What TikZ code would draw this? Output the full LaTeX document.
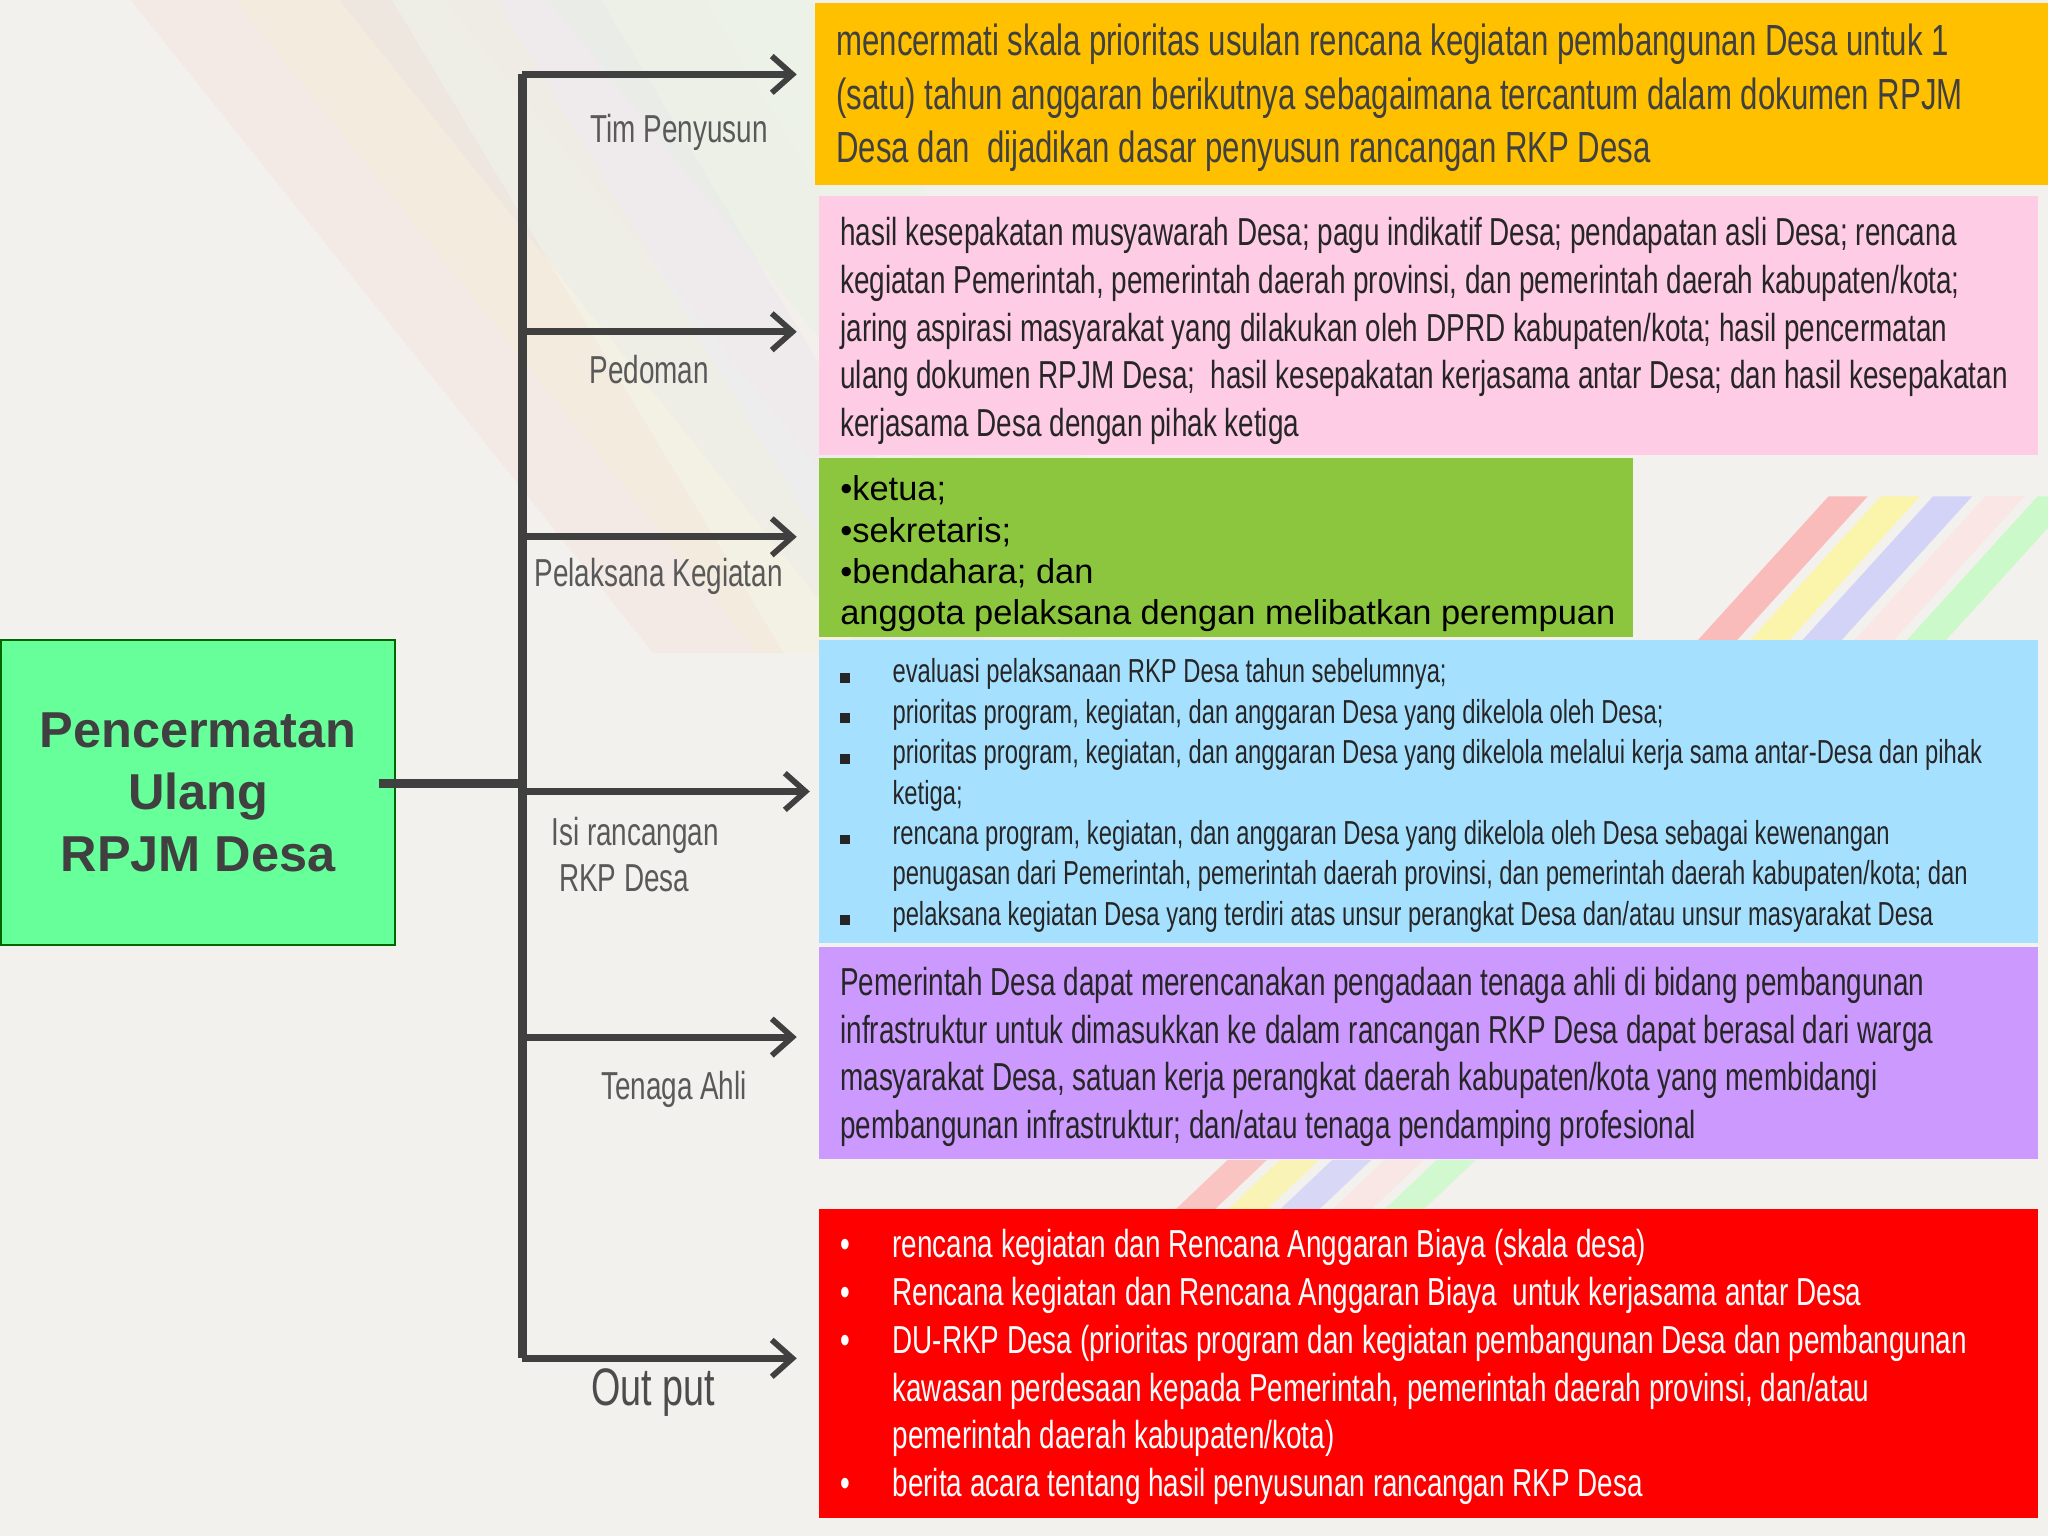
\documentclass[tikz,border=0pt]{standalone}
\usepackage{fontspec}
\setmainfont{Liberation Sans}
\newfontfamily\cond[FakeStretch=0.715]{Liberation Sans}
\usetikzlibrary{arrows.meta}
\definecolor{bg}{HTML}{F3F1ED}
\definecolor{lineg}{HTML}{404040}
\definecolor{ora}{HTML}{FFC000}
\definecolor{pnk}{HTML}{FFCCE6}
\definecolor{grn}{HTML}{8CC63F}
\definecolor{blu}{HTML}{A6E0FF}
\definecolor{pur}{HTML}{CC99FF}
\definecolor{rd}{HTML}{FF0000}
\definecolor{mint}{HTML}{66FF99}
\tikzset{
 txt/.style={anchor=north west,align=left,inner sep=0pt,font=\cond,text=black!80},
 lbl/.style={font=\cond\fontsize{17}{20}\selectfont,text=black!65},
 br/.style={line width=3pt,draw=lineg,-{Straight Barb[length=9pt,width=16pt,line width=2.5pt]}}
}
\newcommand{\sq}{\makebox[0.8cm][l]{\rule{0.15cm}{0.15cm}}}
\newcommand{\wb}{\makebox[0.8cm][l]{\textbullet}}
\begin{document}
\begin{tikzpicture}[x=0.02cm,y=-0.02cm]
\fill[bg] (0,0) rectangle (1568,1176);
\useasboundingbox (0,0) rectangle (1568,1176);
% faint stripes
\foreach \c/\o in {red!40/0,yellow!50/40,blue!25/80,pink!50/120,green!30/160}{
 \fill[\c,opacity=0.6] (1300+\o,490) -- (1400+\o,380) -- (1430+\o,380) -- (1330+\o,490) -- cycle;
 \fill[\c,opacity=0.5] (900+\o,926) -- (940+\o,888) -- (970+\o,888) -- (930+\o,926) -- cycle;
 \fill[\c,opacity=0.08] (100+\o*2,0) -- (300+\o*2,0) -- (600+\o*2,500) -- (500+\o*2,500) -- cycle;
}
% boxes
\fill[ora] (624,2) rectangle (1568,142);
\fill[pnk] (627,150) rectangle (1560,348);
\fill[grn] (627,351) rectangle (1250,488);
\fill[blu] (627,490) rectangle (1560,722);
\fill[pur] (627,725) rectangle (1560,887);
\fill[rd] (627,926) rectangle (1560,1162);
% left box
\node[draw=green!40!black,line width=0.8pt,fill=mint,minimum width=302*0.02cm,minimum height=234*0.02cm,anchor=north west,inner sep=0pt,
 align=center,font=\bfseries\fontsize{22}{27}\selectfont,text=black!75] (main) at (0,489) {Pencermatan\\Ulang\\RPJM Desa};
% trunk
\coordinate (top) at (400,57);
\coordinate (bot) at (400,1040);
\coordinate (mj) at (290,600);
\coordinate (mt) at (400,600);
\draw[line width=4pt,lineg] (top) -- (bot);
\draw[line width=4pt,lineg] (mj) -- (mt);
\foreach \y/\e [count=\i] in {57/610,254/610,411/610,606/620,794/610,1040/610}{
 \coordinate (s\i) at (400,\y); \coordinate (e\i) at (\e,\y);
 \draw[br] (s\i) -- (e\i);
}
\node[lbl] (l1) at (520,101) {Tim Penyusun};
\node[lbl] (l2) at (497,283) {Pedoman};
\node[lbl,anchor=west] (l3) at (403,441) {Pelaksana Kegiatan};
\node[lbl,anchor=west,align=left] (l4) at (416,654) {Isi rancangan\\\ RKP Desa};
\node[lbl] (l5) at (516,834) {Tenaga Ahli};
\node[font=\cond\fontsize{23}{26}\selectfont,text=black!70] (l6) at (500,1066) {Out put};
% texts
\node[txt,font=\cond\fontsize{19}{23.3}\selectfont,text=black!75] (t1) at (640,18) {mencermati skala prioritas usulan rencana kegiatan pembangunan Desa untuk 1\\(satu) tahun anggaran berikutnya sebagaimana tercantum dalam dokumen RPJM\\Desa dan\ \ dijadikan dasar penyusun rancangan RKP Desa};
\node[txt,font=\cond\fontsize{17}{20.8}\selectfont,text=black!85] (t2) at (643,166) {hasil kesepakatan musyawarah Desa; pagu indikatif Desa; pendapatan asli Desa; rencana\\kegiatan Pemerintah, pemerintah daerah provinsi, dan pemerintah daerah kabupaten/kota;\\jaring aspirasi masyarakat yang dilakukan oleh DPRD kabupaten/kota; hasil pencermatan\\ulang dokumen RPJM Desa;\ \ hasil kesepakatan kerjasama antar Desa; dan hasil kesepakatan\\kerjasama Desa dengan pihak ketiga};
\node[txt,font=\fontsize{15}{18}\selectfont,text=black] (t3) at (643,364) {\textbullet ketua;\\\textbullet sekretaris;\\\textbullet bendahara; dan\\anggota pelaksana dengan melibatkan perempuan};
\node[txt,font=\cond\fontsize{14.5}{17.6}\selectfont,text=black!85] (t4) at (643,504) {\sq evaluasi pelaksanaan RKP Desa tahun sebelumnya;\\
\sq prioritas program, kegiatan, dan anggaran Desa yang dikelola oleh Desa;\\
\sq prioritas program, kegiatan, dan anggaran Desa yang dikelola melalui kerja sama antar-Desa dan pihak\\
\hspace*{0.8cm}ketiga;\\
\sq rencana program, kegiatan, dan anggaran Desa yang dikelola oleh Desa sebagai kewenangan\\
\hspace*{0.8cm}penugasan dari Pemerintah, pemerintah daerah provinsi, dan pemerintah daerah kabupaten/kota; dan\\
\sq pelaksana kegiatan Desa yang terdiri atas unsur perangkat Desa dan/atau unsur masyarakat Desa};
\node[txt,font=\cond\fontsize{17}{20.8}\selectfont,text=black!85] (t5) at (643,740) {Pemerintah Desa dapat merencanakan pengadaan tenaga ahli di bidang pembangunan\\infrastruktur untuk dimasukkan ke dalam rancangan RKP Desa dapat berasal dari warga\\masyarakat Desa, satuan kerja perangkat daerah kabupaten/kota yang membidangi\\pembangunan infrastruktur; dan/atau tenaga pendamping profesional};
\node[txt,font=\cond\fontsize{17}{20.8}\selectfont,text=white] (t6) at (643,941) {\wb rencana kegiatan dan Rencana Anggaran Biaya (skala desa)\\
\wb Rencana kegiatan dan Rencana Anggaran Biaya\ \ untuk kerjasama antar Desa\\
\wb DU-RKP Desa (prioritas program dan kegiatan pembangunan Desa dan pembangunan\\
\hspace*{0.8cm}kawasan perdesaan kepada Pemerintah, pemerintah daerah provinsi, dan/atau\\
\hspace*{0.8cm}pemerintah daerah kabupaten/kota)\\
\wb berita acara tentang hasil penyusunan rancangan RKP Desa};
\end{tikzpicture}
\end{document}
